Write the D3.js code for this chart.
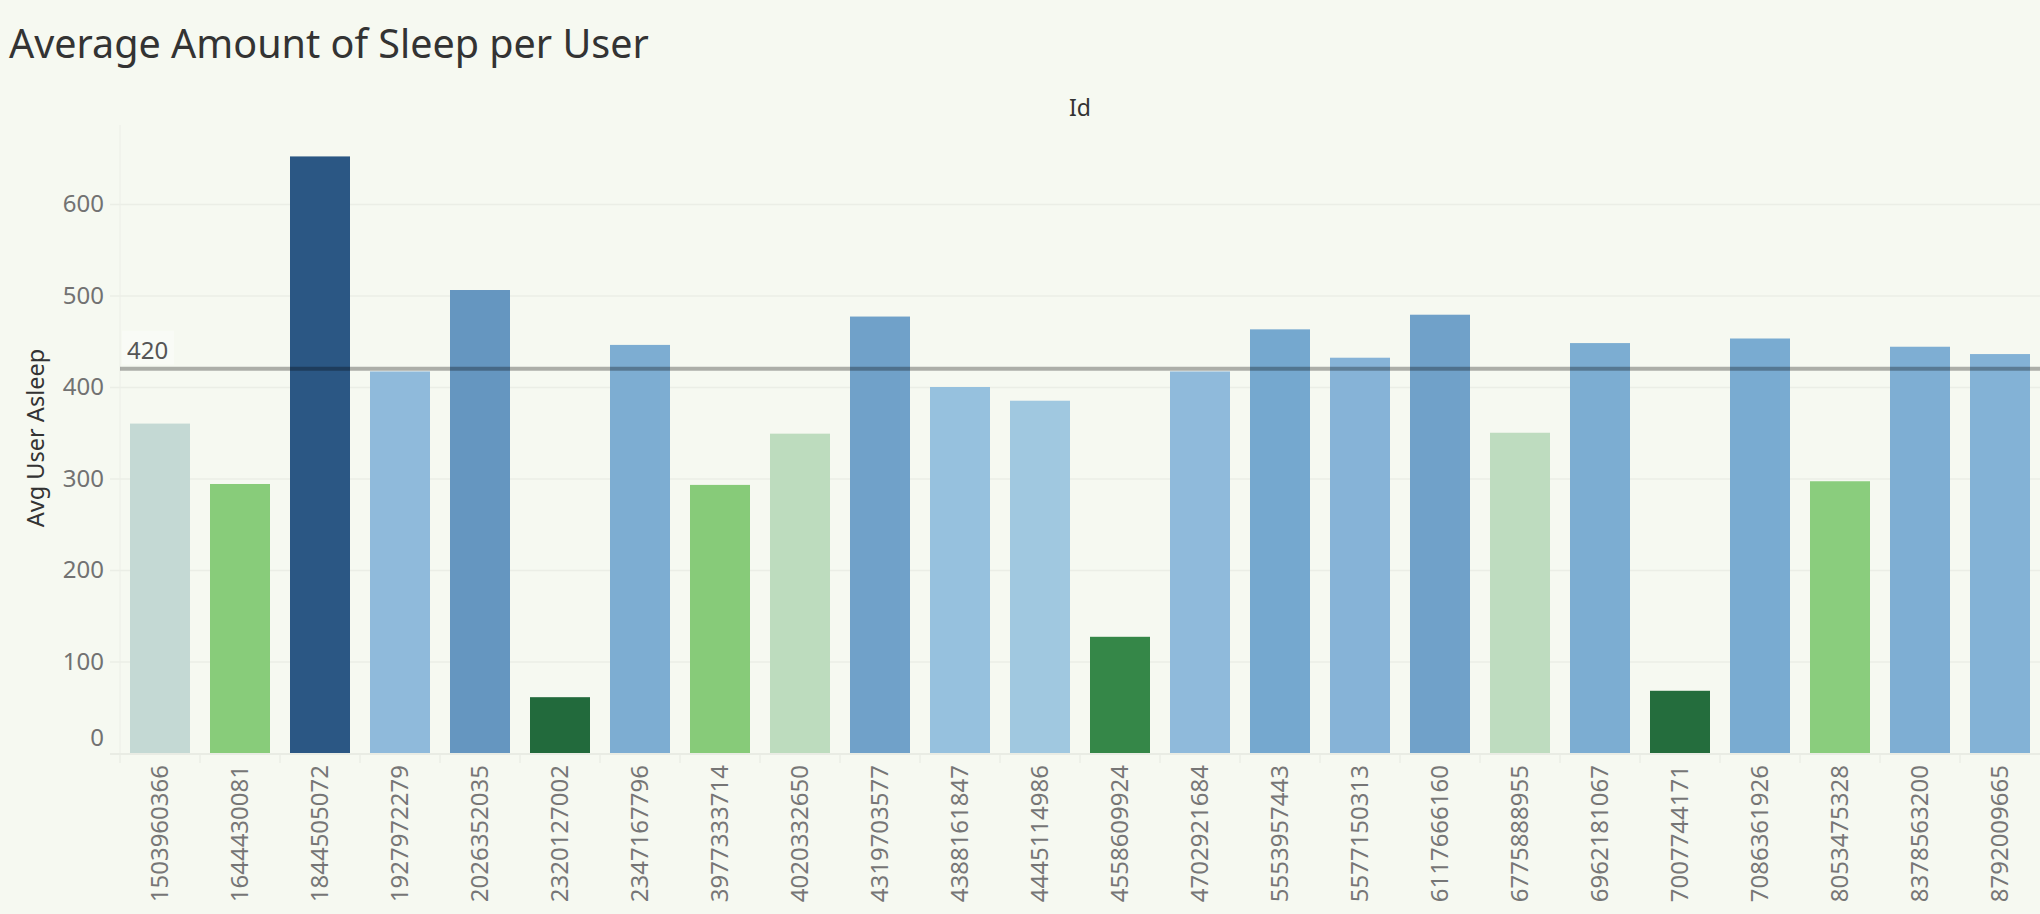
<!DOCTYPE html>
<html>
<head>
<meta charset="utf-8">
<script src="https://cdn.jsdelivr.net/npm/d3@7"></script>
<style>
  body { margin: 0; background: #f6f9f1; }
  svg { display: block; font-family: "Noto Sans", sans-serif; }
</style>
</head>
<body>
<div id="chart"></div>
<script>
// user ids and their average minutes asleep
var userIds = ["1503960366", "1644430081", "1844505072", "1927972279", "2026352035", "2320127002",
               "2347167796", "3977333714", "4020332650", "4319703577", "4388161847", "4445114986",
               "4558609924", "4702921684", "5553957443", "5577150313", "6117666160", "6775888955",
               "6962181067", "7007744171", "7086361926", "8053475328", "8378563200", "8792009665"];
var avgAsleep = [360, 294, 652, 417, 506, 61, 446, 293, 349, 477, 400, 385,
                 127, 417, 463, 432, 479, 350, 448, 68, 453, 297, 444, 436];
var yTicks = [0, 100, 200, 300, 400, 500, 600];
var refValue = 420;

var svgWidth = 2040;
var svgHeight = 914;

// pane box
var pane = { left: 120, right: 2040, top: 125, bottom: 753 };

var data = userIds.map(function(id, i) { return { id: id, value: avgAsleep[i] }; });

var svg = d3.select("#chart")
    .append("svg")
    .attr("width", svgWidth)
    .attr("height", svgHeight);

svg.append("rect")
    .attr("width", svgWidth)
    .attr("height", svgHeight)
    .attr("fill", "#f6f9f1");

var xScale = d3.scaleBand()
    .domain(userIds)
    .range([pane.left, pane.right])
    .paddingInner(0.25)
    .paddingOuter(0.125);

var yScale = d3.scaleLinear()
    .domain([0, 600])
    .range([pane.bottom, 204]);

// tableau-ish green/blue diverging colour by value
var color = d3.scaleLinear()
    .domain([60, 130, 295, 350, 360, 385, 400, 417, 435, 447, 463, 478, 506, 652])
    .range(["#226a3c", "#368849", "#88cc7a", "#bedcbf", "#c4d9d4", "#a0c8e0", "#96c1de",
            "#8fbadb", "#84b2d6", "#7cadd2", "#75a8cf", "#70a1c9", "#6596c0", "#2b5784"])
    .clamp(true);

// title
svg.append("text")
    .attr("x", 9)
    .attr("y", 58)
    .attr("font-size", 39.5)
    .attr("fill", "#333")
    .text("Average Amount of Sleep per User");

// column header
svg.append("text")
    .attr("x", (pane.left + pane.right) / 2)
    .attr("y", 116)
    .attr("text-anchor", "middle")
    .attr("font-size", 23)
    .attr("fill", "#333")
    .text("Id");

// gridlines
var grid = svg.append("g")
    .attr("transform", "translate(" + pane.left + ",0)")
    .call(d3.axisLeft(yScale).tickValues(yTicks.filter(function(d) { return d > 0; }))
        .tickSize(-(pane.right - pane.left + 10)).tickFormat(""));
grid.select(".domain").remove();
grid.selectAll(".tick line")
    .attr("x1", -10)
    .attr("stroke", "#ebeee6")
    .attr("stroke-width", 1.5);

// pane left border
svg.append("line")
    .attr("x1", pane.left).attr("x2", pane.left)
    .attr("y1", pane.top).attr("y2", pane.bottom)
    .attr("stroke", "#eceee7")
    .attr("stroke-width", 1);

// y axis labels
var yAxis = svg.append("g")
    .attr("transform", "translate(" + pane.left + ",0)")
    .call(d3.axisLeft(yScale).tickValues(yTicks).tickSize(0).tickPadding(16));
yAxis.select(".domain").remove();
yAxis.selectAll("text")
    .attr("font-family", "Noto Sans, sans-serif")
    .attr("font-size", 24)
    .attr("fill", "#727272");
yAxis.selectAll(".tick")
    .filter(function(d) { return d === 0; })
    .select("text")
    .attr("dy", "-0.3em");

// y axis title
svg.append("text")
    .attr("transform", "translate(44,438) rotate(-90)")
    .attr("text-anchor", "middle")
    .attr("font-size", 23.5)
    .attr("fill", "#333")
    .text("Avg User Asleep");

// bars
svg.selectAll(".bar")
    .data(data)
    .enter()
    .append("rect")
    .attr("class", "bar")
    .attr("x", function(d) { return xScale(d.id); })
    .attr("y", function(d) { return yScale(d.value); })
    .attr("width", xScale.bandwidth())
    .attr("height", function(d) { return yScale(0) - yScale(d.value); })
    .attr("fill", function(d) { return color(d.value); });

// baseline
svg.append("line")
    .attr("x1", 110).attr("x2", pane.right)
    .attr("y1", pane.bottom + 1).attr("y2", pane.bottom + 1)
    .attr("stroke", "#e9ece4")
    .attr("stroke-width", 2);

// tick marks between columns
var step = xScale.step();
svg.selectAll(".colTick")
    .data(userIds)
    .enter()
    .append("line")
    .attr("x1", function(d) { return xScale(d) - step * 0.125; })
    .attr("x2", function(d) { return xScale(d) - step * 0.125; })
    .attr("y1", pane.bottom + 2)
    .attr("y2", pane.bottom + 10)
    .attr("stroke", "#e6e9e1")
    .attr("stroke-width", 1);

// x labels
var xAxis = svg.append("g")
    .attr("transform", "translate(0," + pane.bottom + ")")
    .call(d3.axisBottom(xScale).tickSize(0));
xAxis.select(".domain").remove();
xAxis.selectAll("text")
    .attr("font-family", "Noto Sans, sans-serif")
    .attr("font-size", 24)
    .attr("fill", "#767676")
    .attr("text-anchor", "end")
    .attr("x", -12)
    .attr("y", 0)
    .attr("dy", "0.35em")
    .attr("transform", "rotate(-90)");

// reference line
svg.append("line")
    .attr("x1", pane.left).attr("x2", pane.right)
    .attr("y1", yScale(refValue)).attr("y2", yScale(refValue))
    .attr("stroke", "#000")
    .attr("stroke-opacity", 0.3)
    .attr("stroke-width", 4);

svg.append("rect")
    .attr("x", pane.left + 2)
    .attr("y", yScale(refValue) - 38)
    .attr("width", 52)
    .attr("height", 34)
    .attr("fill", "#f9fbf6");

svg.append("text")
    .attr("x", pane.left + 7)
    .attr("y", yScale(refValue) - 10)
    .attr("font-size", 24)
    .attr("fill", "#555")
    .text(refValue);
</script>
</body>
</html>
